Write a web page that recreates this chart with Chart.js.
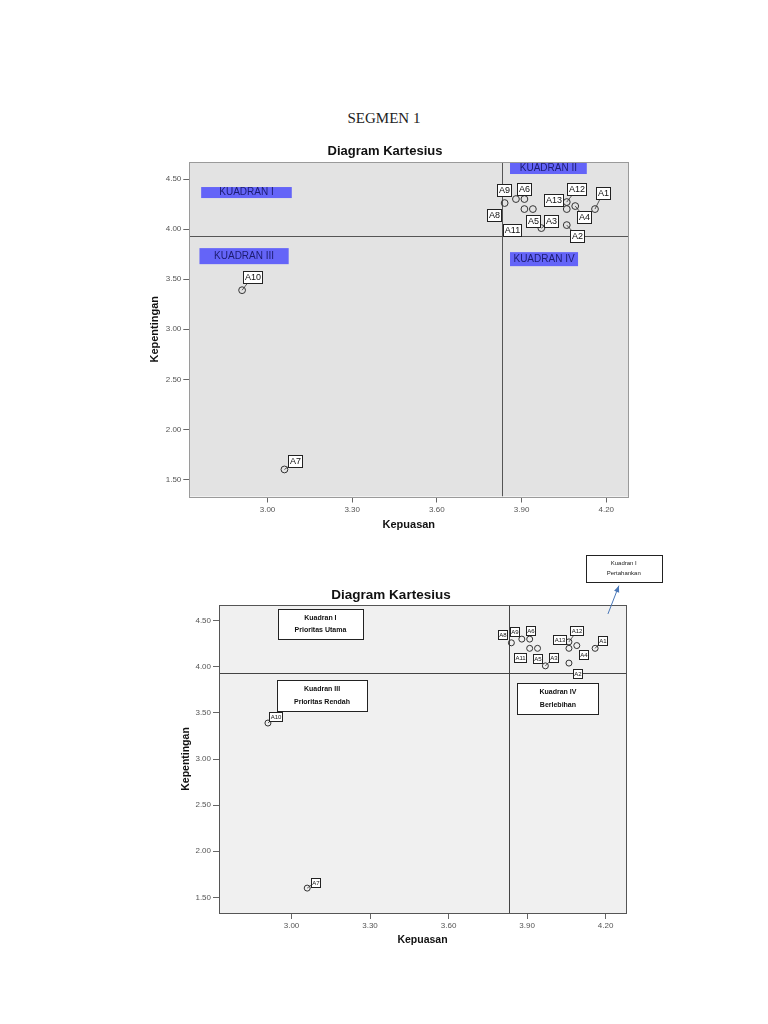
<!DOCTYPE html>
<html>
<head>
<meta charset="utf-8">
<title>Diagram Kartesius - Segmen 1</title>
<script src="https://cdn.jsdelivr.net/npm/chart.js@4.4.1/dist/chart.umd.min.js"></script>
<style>
  body { margin: 0; background: #fff; width: 768px; height: 1024px; position: relative; overflow: hidden; }
  #seg { position: absolute; left: 0; width: 768px; top: 110px; text-align: center;
         font-family: "Liberation Serif", "Times New Roman", serif; font-size: 15px; color: #222; }
  canvas { position: absolute; }
  #c1 { left: 130px; top: 130px; width: 520px; height: 410px; }
  #c2 { left: 150px; top: 540px; width: 520px; height: 415px; }
</style>
</head>
<body>
<div id="seg">SEGMEN 1</div>
<canvas id="c1" width="520" height="410"></canvas>
<canvas id="c2" width="520" height="415"></canvas>

<script>
// Atribut A1..A13
const atribut = ['A1', 'A2', 'A3', 'A4', 'A5', 'A6', 'A7', 'A8', 'A9', 'A10', 'A11', 'A12', 'A13'];
const kepuasan = [4.16, 4.06, 3.97, 4.09, 3.94, 3.91, 3.06, 3.84, 3.88, 2.91, 3.91, 4.06, 4.06];
const kepentingan = [4.20, 4.04, 4.01, 4.23, 4.20, 4.30, 1.60, 4.26, 4.30, 3.39, 4.20, 4.27, 4.20];

// tick labels
const xTicks = [3.00, 3.30, 3.60, 3.90, 4.20];
const yTicks = [1.50, 2.00, 2.50, 3.00, 3.50, 4.00, 4.50];

// garis rata-rata (batas kuadran)
const rataKepuasan = 3.83;
const rataKepentingan = 3.93;

const kuadranAtas = ['KUADRAN I', 'KUADRAN II', 'KUADRAN III', 'KUADRAN IV'];
const kuadranBawah = [['Kuadran I', 'Prioritas Utama'], ['Kuadran III', 'Prioritas Rendah'], ['Kuadran IV', 'Berlebihan']];
const kuadranCallout = ['Kuadran I', 'Pertahankan'];

const FONT = '"Liberation Sans", Arial, sans-serif';

// where each point label box sits relative to its point (px)
const offsetAtas = {
  A1: [8, -16], A2: [10, 11], A3: [10, -7], A4: [9, 11], A5: [0, 12], A6: [0, -10], A7: [11, -8],
  A8: [-11, 12], A9: [-12, -9], A10: [10, -13], A11: [-12, 21], A12: [10, -13], A13: [-13, -9]
};
const offsetBawah = {
  A1: [7, -8], A2: [9, 10], A3: [8, -8], A4: [7, 9], A5: [0, 10], A6: [1, -9], A7: [8, -6],
  A8: [-9, -8], A9: [-7, -8], A10: [8, -7], A11: [-10, 9], A12: [8, -11], A13: [-9, -9]
};

function crisp(v) { return Math.round(v) + 0.5; }

function drawBox(ctx, chart, b) {
  const sx = chart.scales.x, sy = chart.scales.y;
  const x0 = sx.getPixelForValue(b.x0), x1 = sx.getPixelForValue(b.x1);
  const y0 = sy.getPixelForValue(b.y0), y1 = sy.getPixelForValue(b.y1);
  ctx.fillStyle = b.fill;
  ctx.fillRect(x0, y0, x1 - x0, y1 - y0);
  if (b.stroke) {
    ctx.strokeStyle = b.stroke;
    ctx.lineWidth = 1;
    ctx.strokeRect(crisp(x0), crisp(y0), Math.round(x1 - x0), Math.round(y1 - y0));
  }
  ctx.fillStyle = b.color;
  ctx.font = b.font;
  ctx.textAlign = 'center';
  ctx.textBaseline = 'middle';
  const cx = (x0 + x1) / 2, cy = (y0 + y1) / 2;
  const n = b.lines.length;
  b.lines.forEach((t, i) => {
    ctx.fillText(t, cx, cy + (i - (n - 1) / 2) * b.lineGap);
  });
}

const kartesius = {
  id: 'kartesius',
  beforeDatasetsDraw(chart, args, o) {
    const a = chart.chartArea, ctx = chart.ctx;
    ctx.save();
    ctx.fillStyle = o.bg;
    ctx.fillRect(a.left, a.top, a.width, a.height);
    ctx.beginPath();
    ctx.rect(a.left, a.top, a.width, a.height);
    ctx.clip();
    const mx = crisp(chart.scales.x.getPixelForValue(rataKepuasan));
    const my = crisp(chart.scales.y.getPixelForValue(rataKepentingan));
    ctx.strokeStyle = o.lineColor;
    ctx.lineWidth = 1;
    ctx.beginPath();
    ctx.moveTo(mx, a.top); ctx.lineTo(mx, a.bottom);
    ctx.moveTo(a.left, my); ctx.lineTo(a.right, my);
    ctx.stroke();
    o.boxes.forEach(b => drawBox(ctx, chart, b));
    ctx.restore();
  },
  afterDatasetsDraw(chart, args, o) {
    const ctx = chart.ctx;
    const meta = chart.getDatasetMeta(0);
    ctx.save();
    ctx.font = o.labelFont;
    ctx.textAlign = 'center';
    ctx.textBaseline = 'middle';
    meta.data.forEach((pt, i) => {
      const name = atribut[i];
      const off = o.offsets[name];
      const cx = pt.x + off[0], cy = pt.y + off[1];
      const w = Math.round(ctx.measureText(name).width + o.labelPad * 2);
      const h = o.labelH;
      const bx = Math.round(cx - w / 2), by = Math.round(cy - h / 2);
      if (o.leaders.includes(name)) {
        ctx.strokeStyle = '#333';
        ctx.lineWidth = 0.8;
        ctx.beginPath();
        ctx.moveTo(pt.x, pt.y);
        ctx.lineTo(cx, cy);
        ctx.stroke();
      }
      ctx.fillStyle = '#fff';
      ctx.fillRect(bx, by, w, h);
      ctx.strokeStyle = '#222';
      ctx.lineWidth = 1;
      ctx.strokeRect(bx + 0.5, by + 0.5, w, h);
      ctx.fillStyle = '#111';
      ctx.fillText(name, bx + w / 2 + 0.5, by + h / 2 + 1);
    });
    ctx.restore();
  },
  afterDraw(chart, args, o) {
    const ctx = chart.ctx, a = chart.chartArea;
    ctx.save();
    ctx.strokeStyle = o.borderColor;
    ctx.lineWidth = 1;
    ctx.strokeRect(crisp(a.left), crisp(a.top), Math.round(a.width), Math.round(a.height));

    ctx.fillStyle = '#111';
    ctx.textAlign = 'center';
    ctx.textBaseline = 'middle';
    ctx.font = o.titleFont;
    ctx.fillText('Diagram Kartesius', o.titleX, o.titleY);
    ctx.font = o.axisFont;
    ctx.fillText('Kepuasan', (a.left + a.right) / 2, o.xTitleY);
    ctx.save();
    ctx.translate(o.yTitleX, (a.top + a.bottom) / 2);
    ctx.rotate(-Math.PI / 2);
    ctx.fillText('Kepentingan', 0, 0);
    ctx.restore();

    if (o.callout) {
      const c = o.callout;
      const sx = chart.scales.x, sy = chart.scales.y;
      drawBox(ctx, chart, c.box);
      const x0 = sx.getPixelForValue(c.from[0]), y0 = sy.getPixelForValue(c.from[1]);
      const x1 = sx.getPixelForValue(c.to[0]), y1 = sy.getPixelForValue(c.to[1]);
      ctx.strokeStyle = c.color;
      ctx.fillStyle = c.color;
      ctx.lineWidth = 1;
      ctx.beginPath();
      ctx.moveTo(x0, y0); ctx.lineTo(x1, y1);
      ctx.stroke();
      const ang = Math.atan2(y1 - y0, x1 - x0);
      ctx.beginPath();
      ctx.moveTo(x1, y1);
      ctx.lineTo(x1 - 7 * Math.cos(ang - 0.4), y1 - 7 * Math.sin(ang - 0.4));
      ctx.lineTo(x1 - 7 * Math.cos(ang + 0.4), y1 - 7 * Math.sin(ang + 0.4));
      ctx.closePath();
      ctx.fill();
    }
    ctx.restore();
  }
};

function makeChart(id, s) {
  const axis = (min, max, ticks, fit) => ({
    type: 'linear',
    min: min,
    max: max,
    afterBuildTicks: ax => { ax.ticks = ticks.map(v => ({ value: v })); },
    afterFit: fit,
    ticks: {
      callback: v => Number(v).toFixed(2),
      font: { size: 8, family: FONT },
      color: '#555',
      padding: 2,
      maxRotation: 0,
      autoSkip: false
    },
    grid: { drawOnChartArea: false, drawTicks: true, tickLength: 6, color: '#666' },
    border: { display: false }
  });

  return new Chart(document.getElementById(id), {
    type: 'scatter',
    data: {
      datasets: [{
        data: kepuasan.map((x, i) => ({ x: x, y: kepentingan[i] })),
        pointRadius: s.radius,
        pointBorderColor: '#333',
        pointBackgroundColor: 'rgba(0,0,0,0)',
        pointBorderWidth: 1
      }]
    },
    options: {
      responsive: false,
      animation: false,
      layout: { padding: s.padding },
      scales: {
        x: axis(2.723, 4.278, xTicks, ax => { ax.height = s.xAxisH; }),
        y: axis(1.33, 4.67, yTicks, ax => { ax.width = s.yAxisW; })
      },
      plugins: {
        legend: { display: false },
        tooltip: { enabled: false },
        kartesius: s.plugin
      }
    },
    plugins: [kartesius]
  });
}

// Chart atas: label kuadran biru
const biru = (x0, x1, y0, y1, t) => ({
  x0, x1, y0, y1, lines: [t], fill: '#6464f8', color: '#1c1c70',
  font: '10px ' + FONT, lineGap: 0
});
makeChart('c1', {
  radius: 3.4,
  padding: { top: 32, right: 21.7, left: 0, bottom: 0 },
  xAxisH: 43.5,
  yAxisW: 59.3,
  plugin: {
    bg: '#e3e3e3',
    lineColor: '#555',
    borderColor: '#9a9a9a',
    boxes: [
      biru(2.765, 3.086, 4.42, 4.31, kuadranAtas[0]),
      biru(3.859, 4.131, 4.66, 4.55, kuadranAtas[1]),
      biru(2.759, 3.075, 3.81, 3.65, kuadranAtas[2]),
      biru(3.859, 4.100, 3.77, 3.63, kuadranAtas[3])
    ],
    offsets: offsetAtas,
    leaders: ['A1', 'A12', 'A3', 'A10', 'A7', 'A2', 'A4'],
    labelFont: '9px ' + FONT,
    labelPad: 1.5,
    labelH: 12,
    titleFont: 'bold 13px ' + FONT,
    titleX: 255, titleY: 21,
    axisFont: 'bold 11px ' + FONT,
    xTitleY: 395,
    yTitleX: 25
  }
});

// Chart bawah: kotak putih dengan keterangan
const putih = (x0, x1, y0, y1, lines) => ({
  x0, x1, y0, y1, lines: lines, fill: '#fff', stroke: '#222', color: '#111',
  font: 'bold 7px ' + FONT, lineGap: 12.5
});
makeChart('c2', {
  radius: 3,
  padding: { top: 65, right: 44, left: 0, bottom: 0 },
  xAxisH: 42,
  yAxisW: 69,
  plugin: {
    bg: '#f0f0f0',
    lineColor: '#444',
    borderColor: '#555',
    boxes: [
      putih(2.948, 3.273, 4.627, 4.302, kuadranBawah[0]),
      putih(2.944, 3.289, 3.857, 3.521, kuadranBawah[1]),
      putih(3.863, 4.173, 3.824, 3.488, kuadranBawah[2])
    ],
    offsets: offsetBawah,
    leaders: ['A1', 'A12', 'A3', 'A10', 'A7'],
    labelFont: '6px ' + FONT,
    labelPad: 1,
    labelH: 9,
    titleFont: 'bold 13.5px ' + FONT,
    titleX: 241, titleY: 55,
    axisFont: 'bold 10.5px ' + FONT,
    xTitleY: 400,
    yTitleX: 36,
    callout: {
      box: { x0: 4.124, x1: 4.415, y0: 5.213, y1: 4.92, lines: kuadranCallout, fill: '#fff',
             stroke: '#222', color: '#222', font: '6px ' + FONT, lineGap: 10 },
      from: [4.209, 4.573],
      to: [4.251, 4.88],
      color: '#4a78b8'
    }
  }
});
</script>
</body>
</html>
